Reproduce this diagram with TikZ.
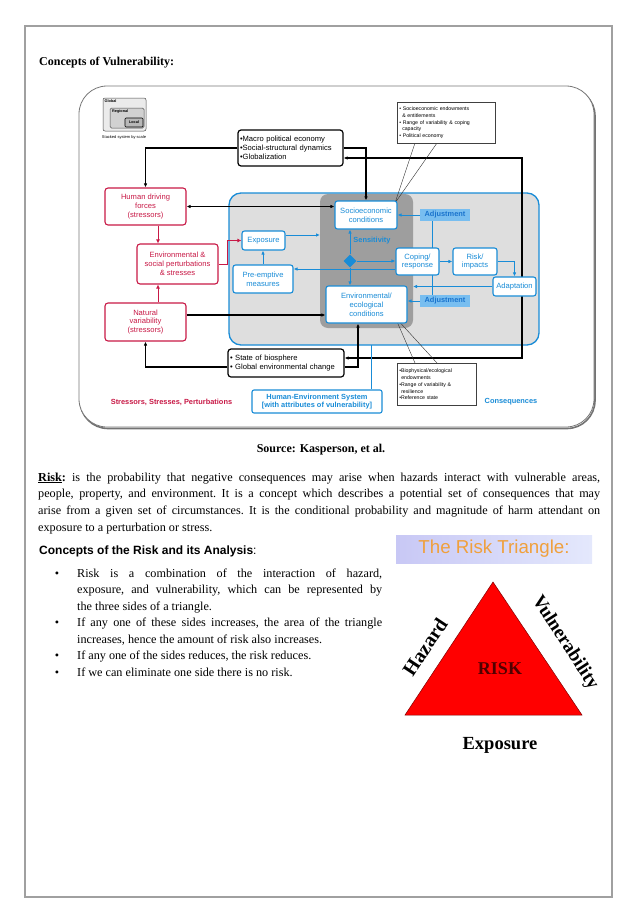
\documentclass[tikz,border=0pt]{standalone}
\usepackage{fontspec}
\setmainfont{Liberation Serif}
\setsansfont{Liberation Sans}
\newfontfamily\arial{Liberation Sans}
\usetikzlibrary{arrows.meta,shapes.geometric}
\pgfdeclarelayer{back}
\pgfdeclarelayer{mid}
\pgfsetlayers{back,mid,main}
\definecolor{stressred}{RGB}{200,25,70}
\definecolor{sysblue}{RGB}{25,140,215}
\definecolor{panelgray}{RGB}{222,222,222}
\definecolor{darkpanel}{RGB}{158,158,158}
\definecolor{adjfill}{RGB}{120,190,240}
\definecolor{adjtext}{RGB}{25,115,205}
\definecolor{framegray}{RGB}{120,120,120}
\definecolor{pagegray}{RGB}{160,160,160}
\definecolor{orangetxt}{RGB}{240,160,60}
\definecolor{bannerL}{RGB}{200,200,245}
\definecolor{bannerR}{RGB}{228,232,252}
\definecolor{riskred}{RGB}{255,0,0}
\definecolor{risktxt}{RGB}{80,0,0}
\newcommand\fdiag{\arial\fontsize{7.6}{8.9}\selectfont}
\newcommand\fcall{\arial\fontsize{5.2}{6.9}\selectfont}
\newcommand\fadj{\arial\bfseries\fontsize{7.4}{8}\selectfont}
\newcommand\fbody{\frenchspacing\fontsize{12.2}{16.7}\selectfont}
\begin{document}
\begin{tikzpicture}[x=1pt,y=-1pt,
  rbox/.style={draw=stressred, line width=1.1pt, rounded corners=3pt, fill=white, text=stressred, align=center, inner sep=0pt, font=\fdiag},
  bbox/.style={draw=sysblue, line width=1.1pt, rounded corners=2.5pt, fill=white, text=sysblue, align=center, inner sep=0pt, font=\fdiag},
  kbox/.style={draw=black, line width=1.2pt, rounded corners=3pt, fill=white, align=left, inner sep=0pt, font=\fdiag},
  cbox/.style={draw=black!75, line width=0.5pt, fill=white, align=left, inner sep=2pt, font=\fcall, anchor=north west},
  adjbox/.style={fill=adjfill, text=adjtext, font=\fadj, inner sep=0pt, minimum width=50pt, minimum height=12pt},
  rarr/.style={draw=stressred, line width=0.9pt, -{Latex[length=4pt,width=4pt]}},
  barr/.style={draw=sysblue, line width=0.9pt, -{Latex[length=4pt,width=3.5pt]}},
  karr/.style={draw=black, line width=1.1pt, -{Latex[length=4pt,width=3.5pt]}},
  thin/.style={draw=black!80, line width=0.4pt},
  bodytxt/.style={inner sep=0pt, font=\fbody},
]
\useasboundingbox (0,0) rectangle (638,902);
% page frame
\draw[pagegray, line width=1.3pt] (25,26) rectangle (612,897);

% ---------------- diagram ----------------
\begin{pgfonlayer}{back}
\draw[black!55, line width=1.6pt, rounded corners=28pt] (80,88) rectangle (595,428.5);
\draw[framegray, line width=0.8pt, fill=white, rounded corners=28pt] (79,86) rectangle (594,427);
\draw[sysblue, line width=1.3pt, fill=panelgray, rounded corners=12pt] (229,193) rectangle (539,345);
\fill[darkpanel, rounded corners=8pt] (320,194) rectangle (413,328);
\end{pgfonlayer}

% stacked scale icon
\draw[black!70, fill=black!8, rounded corners=2pt, line width=0.5pt] (103,98) rectangle (146,131);
\draw[black!70, fill=black!18, rounded corners=1.5pt, line width=0.5pt] (110,108) rectangle (144,128);
\draw[black, fill=black!28, rounded corners=1pt, line width=0.7pt] (125,118) rectangle (143,127);
\node[font=\arial\bfseries\fontsize{3.8}{4}\selectfont, anchor=west, inner sep=0] (glob) at (104.5,101.5) {Global};
\node[font=\arial\bfseries\fontsize{3.8}{4}\selectfont, anchor=west, inner sep=0] (regl) at (112,111.5) {Regional};
\node[font=\arial\bfseries\fontsize{3.8}{4}\selectfont, inner sep=0] (locl) at (134,122.5) {Local};
\node[font=\arial\fontsize{4}{5}\selectfont, inner sep=0] (stk) at (124,137.5) {Stacked system by scale};

% boxes
\node[kbox, minimum width=105pt, minimum height=36pt, text width=101pt] (macro) at (290.5,148) {•Macro political economy\\•Social-structural dynamics\\•Globalization};
\node[rbox, minimum width=81pt, minimum height=37pt] (human) at (145.5,206.5) {Human driving\\forces\\(stressors)};
\node[rbox, minimum width=81pt, minimum height=40pt] (envsoc) at (177.5,264) {Environmental \&\\social perturbations\\\& stresses};
\node[rbox, minimum width=81pt, minimum height=38pt] (natural) at (145.5,322) {Natural\\variability\\(stressors)};
\node[bbox, minimum width=43pt, minimum height=19pt] (exposure) at (263.5,240.5) {Exposure};
\node[bbox, minimum width=60pt, minimum height=28pt] (preempt) at (263,279) {Pre-emptive\\measures};
\node[bbox, minimum width=62pt, minimum height=28pt] (socio) at (366,215) {Socioeconomic\\conditions};
\node[bbox, minimum width=81pt, minimum height=37pt] (envecol) at (366.5,304.5) {Environmental/\\ecological\\conditions};
\node[bbox, minimum width=43pt, minimum height=27pt] (coping) at (417.5,261.5) {Coping/\\response};
\node[bbox, minimum width=44pt, minimum height=27pt] (risk) at (475,261.5) {Risk/\\impacts};
\node[bbox, minimum width=43pt, minimum height=19pt] (adapt) at (514.5,286.5) {Adaptation};
\node[adjbox] (adjtop) at (445,215) {Adjustment};
\node[adjbox] (adjbot) at (445,301) {Adjustment};
\node[diamond, fill=sysblue, minimum size=13pt, inner sep=0pt] (dia) at (350,261) {};
\node[text=sysblue, font=\fadj, inner sep=0pt] (sens) at (372,241) {Sensitivity};
\node[kbox, minimum width=116pt, minimum height=28pt, text width=112pt] (bio) at (286,363) {• State of biosphere\\• Global environmental change};
\node[cbox, minimum width=98pt, minimum height=41pt, text width=94pt] (call1) at (397,102) {• Socioeconomic endowments\\\hspace*{3pt}\& entitlements\\• Range of variability \& coping\\\hspace*{3pt}capacity\\• Political economy};
\node[cbox, minimum width=79pt, minimum height=42pt, text width=75pt] (call2) at (397,363) {•Biophysical/ecological\\\hspace*{2pt}endowments\\•Range of variability \&\\\hspace*{2pt}resilience\\•Reference state};
\node[draw=sysblue, line width=1.1pt, rounded corners=2pt, fill=white, text=sysblue, font=\fadj, align=center, inner sep=0pt, minimum width=130pt, minimum height=23pt] (hes) at (317,401.5) {Human-Environment System\\{[}with attributes of vulnerability{]}};
\node[text=stressred, font=\fadj, inner sep=0pt] (stressl) at (171.5,402) {Stressors, Stresses, Perturbations};
\node[text=sysblue, font=\fadj, inner sep=0pt] (consl) at (511,402) {Consequences};

% helper coordinates
\coordinate (x158) at (158,0);
\coordinate (y315) at (0,315);
\coordinate (l1) at (522,158);
\coordinate (l2) at (522,358);
\coordinate (y367) at (0,367);
\coordinate (b2) at (358,367);
\coordinate (e1) at (320,235);
\coordinate (a1) at (413,286.5);
\coordinate (y269) at (0,269);
\coordinate (x432) at (432,0);
\coordinate (h1) at (371,345);
\coordinate (s1) at (415,143);
\coordinate (s2) at (437,143);
\coordinate (s3) at (395,203);
\coordinate (t1) at (395,317);
\coordinate (t2) at (415,363);
\coordinate (t3) at (437,363);

\begin{pgfonlayer}{mid}
\draw[karr] (macro.west) -| (human.north);
\draw[rarr] (human.south -| x158) -- (envsoc.north -| x158);
\draw[rarr] (natural.north -| x158) -- (envsoc.south -| x158);
\draw[rarr] (envsoc.east) -- ++(9,0) |- (exposure.west);
\draw[karr, {Latex[length=4pt,width=3.5pt]}-{Latex[length=4pt,width=3.5pt]}] (human.east) -- (human.east -| socio.west);
\draw[karr] (natural.east |- y315) -- (envecol.west |- y315);
\draw[karr] (macro.east) -| (socio.north);
\draw[karr, {Latex[length=4pt,width=3.5pt]}-{Latex[length=4pt,width=3.5pt]}] (macro.east |- l1) -- (l1) -- (l2) -- (bio.east |- l2);
\draw[karr] (bio.west |- y367) -| (natural.south);
\draw[karr] (bio.east |- b2) -- (b2) -- (envecol.south -| b2);
\draw[barr] (preempt.north) -- (exposure.south -| preempt.north);
\draw[barr] (exposure.east |- e1) -- (e1);
\draw[barr] (dia) -- (socio.south -| dia);
\draw[barr] (dia) -- (envecol.north -| dia);
\draw[barr] (dia) -- (coping.west |- dia);
\draw[barr] (coping.east) -- (risk.west);
\draw[barr] (risk.east) -| (adapt.north);
\draw[barr] (adapt.west) -- (a1);
\draw[barr] (coping.west |- y269) -- (preempt.east |- y269);
\draw[barr] (adjtop.west) -- (socio.east);
\draw[barr] (adjbot.west) -- (envecol.east |- adjbot.west);
\draw[sysblue, line width=0.9pt] (adjtop.south -| x432) -- (adjbot.north -| x432);
\draw[sysblue, line width=0.8pt] (h1) -- (hes.north -| h1);
\draw[thin] (s1) -- (s3) -- (s2);
\draw[thin] (t2) -- (t1) -- (t3);
\end{pgfonlayer}

% ---------------- text ----------------
\node[bodytxt, anchor=base west, font=\bfseries\fontsize{12}{14}\selectfont] (title1) at (39,65) {Concepts of Vulnerability:};
\node[bodytxt, anchor=base, font=\bfseries\fontsize{12}{14}\selectfont] (src) at (321,452) {Source: Kasperson, et al.};
\node[bodytxt, anchor=base west, text width=562pt, align=justify] (para) at (38,481) {\textbf{\underline{Risk}:} is the probability that negative consequences may arise when hazards interact with vulnerable areas,\linebreak people, property, and environment. It is a concept which describes a potential set of consequences that may\linebreak arise from a given set of circumstances. It is the conditional probability and magnitude of harm attendant on\linebreak exposure to a perturbation or stress.};
\node[bodytxt, anchor=base west, font=\arial\bfseries\fontsize{12}{14}\selectfont] (title2) at (39,554) {Concepts of the Risk and its Analysis\textmd{:}};

\node[bodytxt, anchor=base] (bu1) at (57,577) {•};
\node[bodytxt, anchor=base west, text width=305pt, align=justify] (it1) at (77,577) {Risk is a combination of the interaction of hazard,\linebreak exposure, and vulnerability, which can be represented by\linebreak the three sides of a triangle.};
\node[bodytxt, anchor=base] (bu2) at (57,626.5) {•};
\node[bodytxt, anchor=base west, text width=305pt, align=justify] (it2) at (77,626.5) {If any one of these sides increases, the area of the triangle\linebreak increases, hence the amount of risk also increases.};
\node[bodytxt, anchor=base] (bu3) at (57,659.5) {•};
\node[bodytxt, anchor=base west, text width=305pt, align=justify] (it3) at (77,659.5) {If any one of the sides reduces, the risk reduces.};
\node[bodytxt, anchor=base] (bu4) at (57,676) {•};
\node[bodytxt, anchor=base west, text width=305pt, align=justify] (it4) at (77,676) {If we can eliminate one side there is no risk.};

% ---------------- risk triangle ----------------
\node[left color=bannerL, right color=bannerR, minimum width=196pt, minimum height=28pt, inner sep=0pt, text=orangetxt, font=\arial\fontsize{18.7}{20}\selectfont] (banner) at (494,549) {The Risk Triangle:};
\coordinate (ta) at (493,582);
\coordinate (tl) at (405,715);
\coordinate (tr) at (582,715);
\filldraw[fill=riskred, draw=red!50!black, line width=0.5pt] (ta) -- (tl) -- (tr) -- cycle;
\node[inner sep=0pt, text=risktxt, font=\bfseries\fontsize{18}{20}\selectfont] (risklbl) at (500,669) {RISK};
\node[inner sep=0pt, rotate=56.5, font=\bfseries\fontsize{20}{22}\selectfont] (haz) at (425,647) {Hazard};
\node[inner sep=0pt, rotate=-57, font=\bfseries\fontsize{19}{21}\selectfont] (vul) at (565,643) {Vulnerability};
\node[inner sep=0pt, font=\bfseries\fontsize{18.5}{20}\selectfont] (expo) at (500,745) {Exposure};
\end{tikzpicture}
\end{document}
